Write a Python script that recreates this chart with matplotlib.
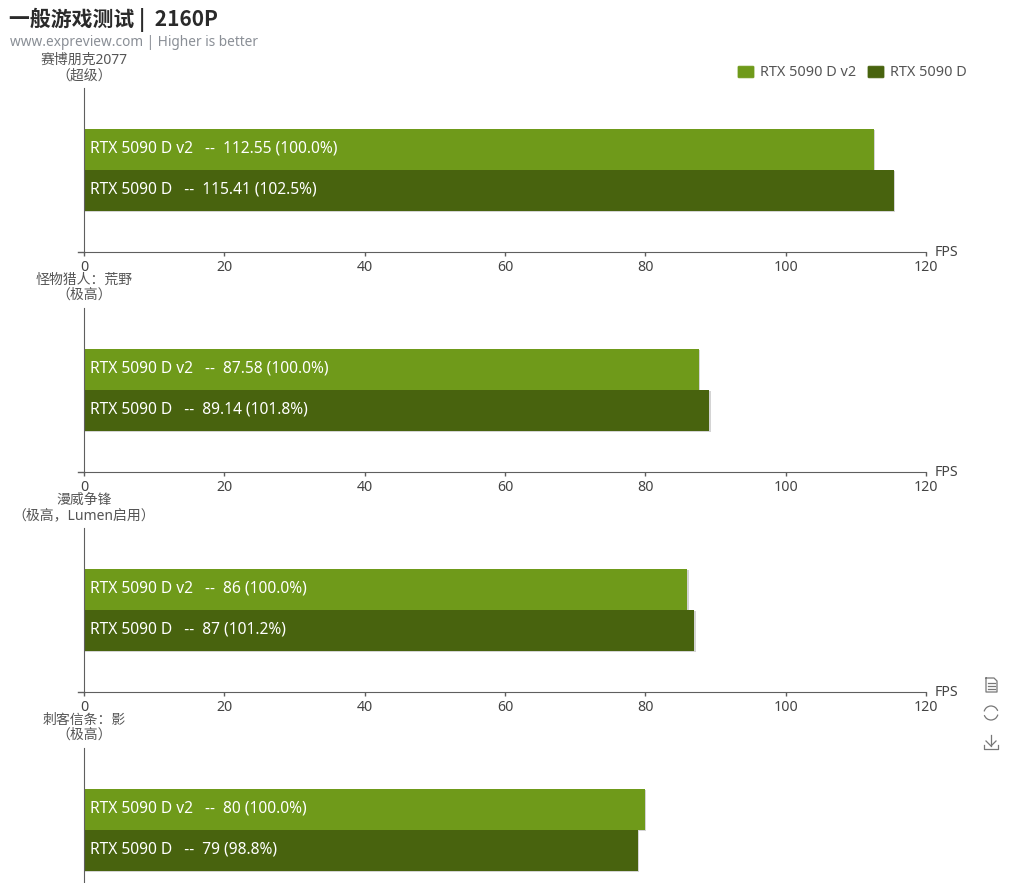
import matplotlib
matplotlib.use('Agg')
import matplotlib.pyplot as plt
import matplotlib.patheffects as pe
from matplotlib.lines import Line2D
from matplotlib.patches import Arc, FancyBboxPatch

plt.rcParams['font.family'] = ['Noto Sans', 'Noto Sans CJK SC', 'DejaVu Sans']

W, H = 1024, 883

# data
games = ['赛博朋克2077\n（超级）', '怪物猎人：荒野\n（极高）',
         '漫威争锋\n（极高，Lumen启用）', '刺客信条：影\n（极高）']
series = ['RTX 5090 D v2', 'RTX 5090 D']
fps_v2 = [112.55, 87.58, 86, 80]
fps_d = [115.41, 89.14, 87, 79]
pct_v2 = ['100.0%', '100.0%', '100.0%', '100.0%']
pct_d = ['102.5%', '101.8%', '101.2%', '98.8%']
x_ticks = [0, 20, 40, 60, 80, 100, 120]

colors = ['#6f9a1a', '#48630e']
axis_color = '#5f5f5f'
text_color = '#555555'
shadow = [pe.SimplePatchShadow(offset=(0.8, -0.8), shadow_rgbFace='#aaaaaa', alpha=0.5), pe.Normal()]


def fx(x):
    return x / W


def fy(y):
    return 1 - y / H


def draw_panel(fig, top, game, values, pcts):
    ax = fig.add_axes([fx(84), fy(top + 164), fx(842), 164 / H])
    ax.patch.set_alpha(0)
    for i, (name, val, pct) in enumerate(zip(series, values, pcts)):
        ax.barh(i, val, height=0.99, color=colors[i], path_effects=shadow, zorder=2)
        ax.annotate(f'{name}   --  {val} ({pct})', xy=(0, i), xytext=(6, 1),
                    textcoords='offset pixels', color='white', fontsize=11.2,
                    va='center', ha='left', zorder=3)
    ax.set_xlim(0, 120)
    ax.set_ylim(2.5, -1.5)
    ax.set_yticks([])
    ax.set_xticks(x_ticks)
    # the last panel runs off the bottom of the picture, so no labels there
    on_canvas = top + 164 < H
    ax.tick_params(axis='x', length=3, width=1, color=axis_color, labelcolor='#444444',
                   labelsize=10.2, pad=2.6, labelbottom=on_canvas)
    ax.spines['top'].set_visible(False)
    ax.spines['right'].set_visible(False)
    ax.spines['left'].set_color(axis_color)
    ax.spines['bottom'].set_color(axis_color)
    if on_canvas:
        # axis line pokes out left of zero
        fig.add_artist(Line2D([fx(78), fx(84)], [fy(top + 164)] * 2, color=axis_color, lw=1))
        fig.text(fx(935), fy(top + 165), 'FPS', color='#444444', fontsize=10.2, va='center')
    fig.text(fx(84), fy(top - 20), game, color=text_color, fontsize=10, ha='center',
             va='center', linespacing=1.03)


def draw_toolbox(fig):
    c = '#777777'
    # document
    for xs, ys in [([986, 994, 997, 997, 986, 986], [678, 678, 681, 692, 692, 678]),
                   ([988, 995], [683, 683]), ([988, 995], [686, 686]), ([988, 995], [689, 689])]:
        fig.add_artist(Line2D([fx(x) for x in xs], [fy(y) for y in ys], color=c, lw=0.9))
    # refresh
    fig.add_artist(Arc((fx(991), fy(713)), 14 / W, 14 / H, theta1=20, theta2=165, color=c, lw=0.9))
    fig.add_artist(Arc((fx(991), fy(713)), 14 / W, 14 / H, theta1=200, theta2=345, color=c, lw=0.9))
    # download
    for xs, ys in [([991, 991], [735, 746]), ([986, 991, 996], [741, 746, 741]),
                   ([984, 984, 998, 998], [745, 749, 749, 745])]:
        fig.add_artist(Line2D([fx(x) for x in xs], [fy(y) for y in ys], color=c, lw=0.9))


def main():
    fig = plt.figure(figsize=(W / 100, H / 100), dpi=100, facecolor='white')

    fig.text(fx(9), fy(20), '一般游戏测试 |  2160P', fontsize=15, fontweight='bold',
             family=['Noto Sans CJK SC', 'DejaVu Sans'], color='#2a2a2a', va='center')
    fig.text(fx(10), fy(43), 'www.expreview.com | Higher is better', fontsize=9.85,
             color='#8a8f96', va='center')

    tops = [88, 308, 528, 748]
    for i, top in enumerate(tops):
        draw_panel(fig, top, games[i], [fps_v2[i], fps_d[i]], [pct_v2[i], pct_d[i]])

    # legend
    for x, tx, name, col in zip([738, 868], [760, 890], series, colors):
        fig.add_artist(FancyBboxPatch((fx(x + 1), fy(77)), 14 / W, 10 / H,
                                      boxstyle='round,pad=0.001', fc=col, ec=col, lw=0.5,
                                      transform=fig.transFigure))
        fig.text(fx(tx), fy(72), name, color=text_color, fontsize=10.4, va='center')

    draw_toolbox(fig)

    fig.savefig('out.png', dpi=100)


if __name__ == '__main__':
    main()
